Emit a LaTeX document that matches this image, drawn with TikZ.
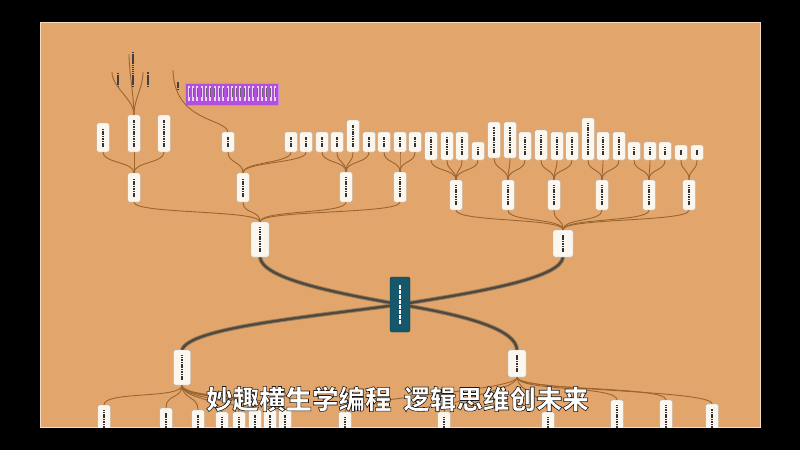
\documentclass[tikz,border=0pt]{standalone}
\usepackage{fontspec}
\newfontfamily\cjk{Noto Sans CJK SC}
\usetikzlibrary{positioning, backgrounds, calc}

\definecolor{panel}{HTML}{E2A66C}
\definecolor{panelrim}{HTML}{F3DDBE}
\definecolor{twig}{HTML}{9A6531}
\definecolor{trunk}{HTML}{4F4A40}
\definecolor{hub}{HTML}{15576B}
\definecolor{card}{HTML}{FBF7EF}
\definecolor{pick}{HTML}{B24FDD}

% white glyphs with a dark rim, as in video captions
\newcommand{\rimtext}[1]{\special{pdf:literal direct 1 1 1 rg 0.1 0.1 0.1 RG 0.6 w 2 Tr}#1\special{pdf:literal direct 0 Tr}}

\begin{document}
\begin{tikzpicture}[x=1pt, y=-1pt,
    leaf/.style={draw=black!30, fill=card, rounded corners=1.5pt, inner sep=0pt, minimum width=12.5pt,
        path picture={\draw[black!80, line width=1.8pt, dash pattern=on 1.6pt off 0.8pt]
            ([yshift=5pt]path picture bounding box.south) -- ([yshift=-5pt]path picture bounding box.north);}},
    hubbox/.style={fill=hub, draw=hub!70!black, rounded corners=2pt, inner sep=0pt, minimum width=20pt, minimum height=55pt,
        path picture={\draw[white, line width=1.6pt, dash pattern=on 1.6pt off 0.9pt]
            ([yshift=8pt]path picture bounding box.south) -- ([yshift=-8pt]path picture bounding box.north);}},
    link/.style={draw=twig, line width=0.9pt},
    rise/.style={to path={.. controls +(0,-#1) and +(0,#1) .. (\tikztotarget)}},
    rise/.default=11,
    fall/.style={to path={.. controls +(0,#1) and +(0,-#1) .. (\tikztotarget)}},
    fall/.default=14,
    trunkline/.style={draw=trunk, line width=2.4pt, line cap=round, preaction={draw=trunk!45!panel, line width=4.2pt}},
    tick/.style={black!75, line width=1.2pt, dash pattern=on 1.5pt off 0.6pt},
    subtitle/.style={font=\cjk\bfseries\fontsize{26.5}{26.5}\selectfont, inner sep=0pt}
]

    % Screen frame and map sheet
    \begin{scope}[on background layer]
    \fill[black] (0,0) rectangle (800,450);
    \fill[panel, draw=panelrim, line width=1pt] (40,22) rectangle (760,427);
    \end{scope}

    \begin{scope}
    \clip (40,22) rectangle (760,427);

    % Centre topic
    \node[hubbox] (c) at (400,304.5) {};

    % First level branches
    \node[leaf, minimum width=18pt, minimum height=35pt] (ul) at (260,239.5) {};
    \node[leaf, minimum width=20pt, minimum height=27pt] (ur) at (563,243.5) {};
    \node[leaf, minimum width=17pt, minimum height=35pt] (ll) at (182,367.5) {};
    \node[leaf, minimum width=18pt, minimum height=27pt] (lr) at (517,363.5) {};

    % Second level, upper left
    \node[leaf, minimum height=29pt] (a1) at (134,187.5) {};
    \node[leaf, minimum height=29pt] (a2) at (243,187.5) {};
    \node[leaf, minimum height=30pt] (a3) at (346,187) {};
    \node[leaf, minimum height=30pt] (a4) at (400,187) {};

    % Second level, upper right
    \node[leaf, minimum height=30pt] (b1) at (456,195) {};
    \node[leaf, minimum height=30pt] (b2) at (508,195) {};
    \node[leaf, minimum height=30pt] (b3) at (554,195) {};
    \node[leaf, minimum height=30pt] (b4) at (602,195) {};
    \node[leaf, minimum height=30pt] (b5) at (649,195) {};
    \node[leaf, minimum height=30pt] (b6) at (689,195) {};

    % Top row of leaves
    \node[leaf, minimum height=29pt] (t1) at (103,137.5) {};
    \node[leaf, minimum height=37pt] (t2) at (134,133.5) {};
    \node[leaf, minimum height=37pt] (t3) at (164,133.5) {};
    \node[leaf, minimum height=20pt] (t4) at (228,142) {};
    \node[leaf, minimum height=20pt] (t5) at (291,142) {};
    \node[leaf, minimum height=20pt] (t6) at (306,142) {};
    \node[leaf, minimum height=20pt] (t7) at (322,142) {};
    \node[leaf, minimum height=20pt] (t8) at (337,142) {};
    \node[leaf, minimum height=32pt] (t9) at (353,136) {};
    \node[leaf, minimum height=20pt] (t10) at (369,142) {};
    \node[leaf, minimum height=20pt] (t11) at (384,142) {};
    \node[leaf, minimum height=20pt] (t12) at (400,142) {};
    \node[leaf, minimum height=20pt] (t13) at (415,142) {};
    \node[leaf, minimum height=28pt] (t14) at (431,146) {};
    \node[leaf, minimum height=28pt] (t15) at (447,146) {};
    \node[leaf, minimum height=28pt] (t16) at (462,146) {};
    \node[leaf, minimum height=18pt] (t17) at (478,151) {};
    \node[leaf, minimum height=36pt] (t18) at (494,140) {};
    \node[leaf, minimum height=36pt] (t19) at (510,140) {};
    \node[leaf, minimum height=28pt] (t20) at (525,146) {};
    \node[leaf, minimum height=30pt] (t21) at (541,145) {};
    \node[leaf, minimum height=28pt] (t22) at (557,146) {};
    \node[leaf, minimum height=28pt] (t23) at (572,146) {};
    \node[leaf, minimum height=42pt] (t24) at (588,139) {};
    \node[leaf, minimum height=28pt] (t25) at (603,146) {};
    \node[leaf, minimum height=28pt] (t26) at (619,146) {};
    \node[leaf, minimum height=18pt] (t27) at (634,151) {};
    \node[leaf, minimum height=18pt] (t28) at (650,151) {};
    \node[leaf, minimum height=18pt] (t29) at (665,151) {};
    \node[leaf, minimum height=15pt] (t30) at (681,152.5) {};
    \node[leaf, minimum height=15pt] (t31) at (697,152.5) {};

    % Bottom row, cut by the sheet edge
    \node[leaf, minimum height=30pt] (d1) at (104,420) {};
    \node[leaf, minimum height=27pt] (d2) at (166,421.5) {};
    \node[leaf, minimum height=25pt] (d3) at (198,422.5) {};
    \node[leaf, minimum height=23pt] (d4) at (222,423.5) {};
    \node[leaf, minimum height=23pt] (d5) at (239,423.5) {};
    \node[leaf, minimum height=25pt] (d6) at (255,422.5) {};
    \node[leaf, minimum height=25pt] (d7) at (270,422.5) {};
    \node[leaf, minimum height=25pt] (d8) at (285,422.5) {};
    \node[leaf, minimum height=23pt] (d9) at (345,423.5) {};
    \node[leaf, minimum height=23pt] (d10) at (444,423.5) {};
    \node[leaf, minimum height=23pt] (d11) at (548,423.5) {};
    \node[leaf, minimum height=35pt] (d12) at (617,417.5) {};
    \node[leaf, minimum height=35pt] (d13) at (666,417.5) {};
    \node[leaf, minimum height=31pt] (d14) at (712,419.5) {};

    % Small labels above the first leaves
    \coordinate (s1) at (112,72);
    \coordinate (s2) at (129,54);
    \coordinate (s3) at (143,72);
    \coordinate (s4) at (173,70);
    \draw[tick] (118,87) -- (118,73);
    \draw[tick] (133,87) -- (133,52);
    \draw[tick] (148,87) -- (148,72);
    \draw[tick] (178,90) -- (178,82);

    % Highlighted group
    \node[fill=pick, draw=pick!70!white, inner sep=0pt, minimum width=93pt, minimum height=22pt] (grp) at (231.5,94) {};
    \foreach \i in {0,...,20}
        \draw[white!75!pick, line width=2pt] ($(grp.north west)+(4+\i*4.3,3)$) -- ++(0,15);
    \foreach \i in {0,...,20}
        \draw[black!60, line width=0.5pt] ($(grp.north west)+(4+\i*4.3,5)$) -- ++(0,9);

    % Connectors
    \foreach \k in {s1,s2,s3}
        \draw[link] (t2.north) to[rise=16] (\k);
    \draw[link] (t4.north) .. controls (225,118) and (174,122) .. (s4);
    \foreach \k in {t1,t2,t3}
        \draw[link] (a1.north) to[rise] (\k.south);
    \foreach \k in {t4,t5,t6}
        \draw[link] (a2.north) to[rise] (\k.south);
    \foreach \k in {t7,t8,t9,t10}
        \draw[link] (a3.north) to[rise] (\k.south);
    \foreach \k in {t11,t12,t13}
        \draw[link] (a4.north) to[rise] (\k.south);
    \foreach \k in {t14,t15,t16,t17}
        \draw[link] (b1.north) to[rise] (\k.south);
    \foreach \k in {t18,t19,t20}
        \draw[link] (b2.north) to[rise] (\k.south);
    \foreach \k in {t21,t22,t23}
        \draw[link] (b3.north) to[rise] (\k.south);
    \foreach \k in {t24,t25,t26}
        \draw[link] (b4.north) to[rise] (\k.south);
    \foreach \k in {t27,t28,t29}
        \draw[link] (b5.north) to[rise] (\k.south);
    \foreach \k in {t30,t31}
        \draw[link] (b6.north) to[rise] (\k.south);
    \foreach \k in {a1,a2,a3,a4}
        \draw[link] (ul.north) to[rise=12] (\k.south);
    \foreach \k in {b1,b2,b3,b4,b5,b6}
        \draw[link] (ur.north) to[rise=12] (\k.south);
    \foreach \k in {d1,d2,d3,d4,d5,d6,d7,d8}
        \draw[link] (ll.south) to[fall] (\k.north);
    \foreach \k in {d9,d10,d11,d12,d13,d14}
        \draw[link] (lr.south) to[fall] (\k.north);
    \end{scope}

    % Thick branches crossing at the centre
    \begin{scope}[on background layer]
    \draw[trunkline] (ul.south) .. controls (262,278) and (330,292) .. (c.center);
    \draw[trunkline] (ur.south) .. controls (561,278) and (480,292) .. (c.center);
    \draw[trunkline] (c.center) .. controls (300,318) and (190,328) .. (ll.north);
    \draw[trunkline] (c.center) .. controls (470,316) and (516,330) .. (lr.north);
    \end{scope}

    % Caption of the video
    \node[subtitle, text=white] (caption) at (397.5,399) {\rimtext{妙趣横生学编程\hspace{0.45em}逻辑思维创未来}};

\end{tikzpicture}
\end{document}
